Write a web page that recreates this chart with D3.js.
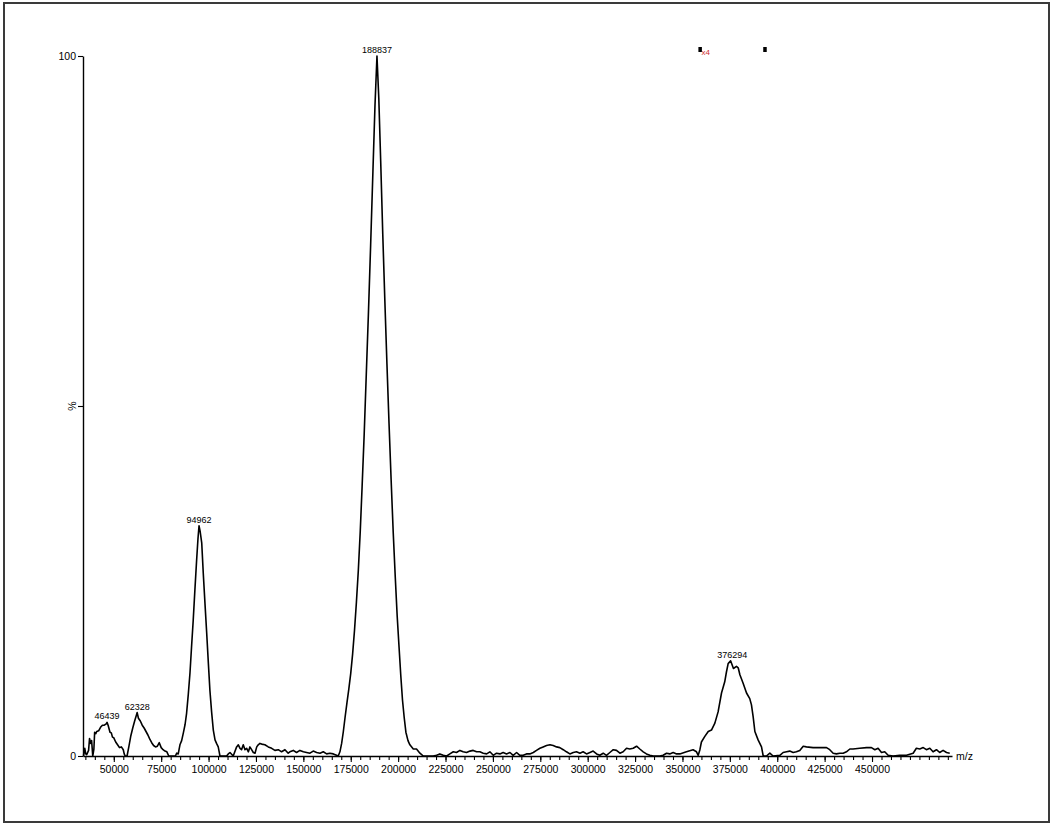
<!DOCTYPE html>
<html>
<head>
<meta charset="utf-8">
<script src="https://cdn.jsdelivr.net/npm/d3@7"></script>
<style>
  html, body { margin: 0; padding: 0; background: #fff; }
  svg text { font-family: "Liberation Sans Narrow", "Liberation Sans", Arial, sans-serif; fill: #000; }
</style>
</head>
<body>
<div id="chart"></div>
<script>
// Spectrum trace (m/z, relative intensity %)
const mz = [
  34000, 34700, 35200, 35700, 36700, 37200, 37800, 38300, 38900, 39500,
  39900, 40500, 41000, 42000, 43000, 44000, 45000, 46000, 46439, 47000,
  48000, 48700, 49300, 50000, 51000, 52000, 53000, 54000, 55000, 55500,
  56000, 57000, 58000, 59000, 60000, 61000, 62000, 62328, 63000, 64000,
  65000, 66000, 67000, 68000, 69000, 70000, 71000, 72000, 73000, 74000,
  75000, 76000, 77000, 78000, 79000, 80000, 82500, 83200, 84000, 84900,
  85800, 86700, 87600, 88400, 89300, 90200, 91000, 91900, 92800, 93700,
  94400, 94962, 95600, 96400, 97200, 98100, 99000, 99900, 100700, 101600,
  102500, 103400, 104200, 105100, 105600, 106000, 107000, 109500, 110400, 111300,
  113000, 114800, 115700, 116600, 117400, 118300, 119200, 120100, 121000, 121800,
  122700, 123600, 124500, 125400, 126200, 127100, 128000, 129700, 131500, 133300,
  135000, 136800, 138500, 140300, 142000, 142900, 144700, 146400, 148200, 150000,
  151700, 153500, 155200, 157000, 158800, 160500, 162300, 164000, 165800, 167500,
  168400, 169300, 170200, 171100, 172000, 173000, 174000, 175000, 176000, 177000,
  178000, 179000, 180000, 181000, 182100, 183200, 184300, 185500, 186700, 187800,
  188837, 189800, 190800, 191900, 193000, 194100, 195200, 196300, 197400, 198500,
  199500, 200500, 201400, 202300, 203200, 204100, 205200, 206200, 208000, 209700,
  211500, 212400, 213300, 218500, 220300, 222000, 223800, 225600,
  227300, 229100, 230800, 232600, 234300, 236100, 237900, 239600, 241400, 243100,
  244900, 246700, 248400, 250200, 251900, 253700, 255400, 257200, 259000, 260700,
  262500, 264200, 266000, 267700, 269500, 271300, 273000, 274800, 276500, 278300,
  280100, 281800, 283600, 285300, 287100, 288800, 290600, 292400, 294100, 295900,
  297600, 299400, 301200, 302900, 304700, 306400, 308200, 309900, 311700, 313500,
  315200, 317000, 318700, 320500, 322200, 324000, 325800, 327500, 329300, 331000,
  332800, 334600, 338100, 339800, 341600, 343300, 345100, 346900, 348600, 352100,
  355600, 357400, 358300, 359200, 360000, 361800, 363600, 365300, 367100, 368800,
  370600, 372300, 373200, 374100, 375400, 376900, 378500, 379400, 380300, 382000,
  383800, 385500, 386400, 387300, 388200, 389900, 391700, 392600, 394300, 396100,
  397800, 401400, 403100, 404900, 406600, 408400, 410100, 411900, 413700, 415400,
  418900, 422500, 426000, 427700, 429500, 431200, 433000, 434800, 436500, 438300,
  440000, 443500, 447100, 449700, 451500, 453200, 455000, 456700, 458500, 461100,
  464600, 468200, 471700, 473400, 475200, 477000, 478700, 480500, 482200, 484000,
  485700, 487500, 489300, 491000
];
const pct = [
  0, 1.1, 0.3, 0.2, 0.8, 2.5, 1.8, 2.2, 0, 1.0,
  3.4, 3.2, 3.5, 3.6, 4.1, 4.4, 4.4, 4.6, 4.8, 4.4,
  3.4, 3.3, 2.7, 2.6, 2.0, 1.6, 1.2, 1.3, 0.9, 0.3,
  0, 0, 1.4, 2.9, 4.0, 5.0, 5.9, 6.2, 5.4, 5.0,
  4.4, 4.0, 3.5, 3.0, 2.4, 1.9, 1.5, 1.3, 1.4, 1.9,
  1.2, 0.9, 0.7, 0.6, 0, 0, 0, 0.4, 0.3, 1.6,
  2.2, 3.3, 4.5, 6.1, 8.8, 11.9, 15.5, 19.4, 23.8, 28.0,
  31.0, 32.9, 32.0, 30.4, 26.1, 21.8, 17.6, 13.2, 9.4, 6.3,
  3.7, 2.3, 1.8, 1.3, 0.6, 0, 0, 0, 0.3, 0.5,
  0, 1.3, 1.6, 1.1, 0.9, 1.6, 0.9, 1.1, 0.6, 1.3,
  0.9, 0.5, 0.4, 1.3, 1.6, 1.8, 1.7, 1.6, 1.3, 1.1,
  0.8, 0.9, 0.6, 0.9, 0.4, 0.6, 0.8, 0.5, 0.8, 0.6,
  0.5, 0.4, 0.7, 0.5, 0.4, 0.6, 0.3, 0.4, 0.3, 0.1,
  0, 0.6, 1.8, 3.5, 5.5, 7.6, 9.6, 11.8, 14.6, 18.0,
  22.0, 26.5, 32.0, 38.5, 46.0, 54.5, 63.0, 73.0, 83.5, 93.0,
  100, 94.0, 85.0, 74.5, 65.0, 56.0, 47.5, 39.5, 32.0, 25.5,
  20.0, 15.5, 11.5, 8.0, 5.5, 3.4, 2.2, 1.6, 1.0, 1.0,
  0.4, 0.2, 0, 0, 0.1, 0.3, 0.1, 0,
  0.3, 0.6, 0.5, 0.8, 0.6, 0.5, 0.7, 0.8, 0.6, 0.6,
  0.4, 0.3, 0.6, 0.1, 0.4, 0.3, 0.5, 0.3, 0.5, 0.1,
  0.5, 0.1, 0.1, 0.3, 0.3, 0.5, 0.8, 1.1, 1.3, 1.5,
  1.6, 1.5, 1.3, 1.2, 0.9, 0.6, 0.3, 0.5, 0.6, 0.4,
  0.6, 0.3, 0.5, 0.7, 0.3, 0.1, 0.4, 0.1, 0.5, 0.9,
  0.8, 0.4, 0.6, 1.1, 1.0, 1.1, 1.4, 1.0, 0.6, 0.3,
  0.1, 0, 0, 0.1, 0.4, 0.3, 0.5, 0.3, 0.3, 0.6,
  0.9, 0.6, 0.1, 0.9, 2.0, 2.8, 3.5, 3.7, 4.7, 6.3,
  9.0, 10.6, 12.0, 13.2, 13.6, 12.5, 12.8, 12.6, 11.6, 10.4,
  9.0, 8.2, 7.3, 5.6, 3.5, 2.3, 1.3, 0, 0, 0.4,
  0, 0.1, 0.5, 0.6, 0.7, 0.5, 0.6, 0.8, 1.4, 1.3,
  1.2, 1.2, 1.2, 0.9, 0.4, 0.3, 0.4, 0.4, 0.6, 1.0,
  1.0, 1.1, 1.2, 1.2, 0.9, 1.1, 0.5, 0.6, 0.1, 0,
  0.1, 0.1, 0.4, 1.1, 1.0, 1.2, 0.9, 1.1, 0.6, 0.9,
  0.5, 0.8, 0.5, 0.4
];

// Peak annotations
const peakMz = [46439, 62328, 94962, 188837, 376294];
const peakPct = [4.8, 6.2, 32.9, 100, 13.6];

// Axis ticks
const xMajorTicks = d3.range(50000, 450001, 25000);
const xMinorTicks = d3.range(35000, 492000, 5000);
const yTicks = [0, 50, 100];

// Magnification markers at the top
const markerMz = [359200, 393400];
const markerText = "x4";

function createSpectrum() {
    const container = d3.select("#chart");
    container.selectAll("*").remove();

    const W = 1054, H = 827;
    const svg = container.append("svg")
        .attr("width", W)
        .attr("height", H);

    // frame round the whole picture
    svg.append("rect")
        .attr("x", 4).attr("y", 3)
        .attr("width", 1045).attr("height", 819)
        .attr("fill", "none")
        .attr("stroke", "#3a3a3a")
        .attr("stroke-width", 2);

    const x = d3.scaleLinear()
        .domain([33755, 492194])
        .range([83, 952]);

    const y = d3.scaleLinear()
        .domain([0, 100])
        .range([756, 56]);

    const fontStack = "'Liberation Sans Narrow', 'Liberation Sans', Arial, sans-serif";

    // minor ticks
    svg.append("g")
        .attr("transform", `translate(0,${y(0)})`)
        .call(d3.axisBottom(x).tickValues(xMinorTicks).tickSize(4).tickSizeOuter(0).tickFormat(""))
        .call(g => g.select(".domain").attr("stroke", "#000").attr("stroke-width", 1.4))
        .call(g => g.selectAll(".tick line").attr("stroke", "#000").attr("stroke-width", 1.1));

    // major ticks + labels
    svg.append("g")
        .attr("transform", `translate(0,${y(0)})`)
        .call(d3.axisBottom(x).tickValues(xMajorTicks).tickSize(6).tickPadding(4).tickSizeOuter(0).tickFormat(d => d))
        .call(g => g.select(".domain").remove())
        .call(g => g.selectAll(".tick line").attr("stroke", "#000").attr("stroke-width", 1.1))
        .call(g => g.selectAll(".tick text")
            .style("font-size", "10.5px")
            .style("font-family", fontStack)
            .attr("fill", "#000"));

    // y axis
    svg.append("g")
        .attr("transform", `translate(${x.range()[0]},0)`)
        .call(d3.axisLeft(y).tickValues(yTicks).tickSize(5).tickPadding(2).tickSizeOuter(0)
            .tickFormat(d => d === 50 ? "" : d))
        .call(g => g.select(".domain").attr("stroke", "#000").attr("stroke-width", 1.4))
        .call(g => g.selectAll(".tick line").attr("stroke", "#000").attr("stroke-width", 1.1))
        .call(g => g.selectAll(".tick text")
            .style("font-size", "10.5px")
            .style("font-family", fontStack)
            .attr("fill", "#000"));

    // "%" label, turned
    svg.append("text")
        .attr("transform", `translate(72,${y(50)}) rotate(-90)`)
        .attr("text-anchor", "middle")
        .attr("dy", "0.35em")
        .style("font-size", "10.5px")
        .text("%");

    // m/z label
    svg.append("text")
        .attr("x", x.range()[1] + 4)
        .attr("y", y(0) + 4)
        .style("font-size", "10.5px")
        .text("m/z");

    // spectrum line
    const pts = mz.map((m, i) => [m, pct[i]]);
    const line = d3.line()
        .x(d => x(d[0]))
        .y(d => y(d[1]));

    svg.append("path")
        .datum(pts)
        .attr("fill", "none")
        .attr("stroke", "#000")
        .attr("stroke-width", 1.6)
        .attr("stroke-linejoin", "round")
        .attr("d", line);

    // peak labels
    svg.selectAll(".peak-label")
        .data(peakMz)
        .enter().append("text")
        .attr("class", "peak-label")
        .attr("x", d => x(d))
        .attr("y", (d, i) => y(peakPct[i]) - 3)
        .attr("text-anchor", "middle")
        .style("font-size", "9px")
        .text(d => d);

    // magnification markers
    svg.selectAll(".marker")
        .data(markerMz)
        .enter().append("rect")
        .attr("class", "marker")
        .attr("x", d => x(d) - 1.5)
        .attr("y", y(100) - 9)
        .attr("width", 3.5)
        .attr("height", 5)
        .attr("fill", "#000");

    svg.append("text")
        .attr("x", x(markerMz[0]) + 1.5)
        .attr("y", y(100) - 1)
        .style("font-size", "8px")
        .style("fill", "#d03030")
        .text(markerText);
}

createSpectrum();
</script>
</body>
</html>
